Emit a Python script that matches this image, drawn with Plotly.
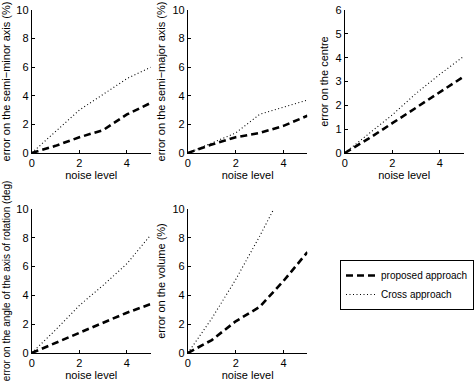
import plotly.graph_objects as go

noise = [0, 1, 2, 3, 4, 5]

minor_proposed = [0, 0.5, 1.1, 1.6, 2.7, 3.5]
minor_cross = [0, 1.5, 3.0, 4.1, 5.2, 6.0]

major_proposed = [0, 0.6, 1.1, 1.4, 1.9, 2.6]
major_cross = [0, 0.7, 1.4, 2.7, 3.2, 3.7]

centre_proposed = [0, 0.6, 1.25, 1.9, 2.55, 3.2]
centre_cross = [0, 0.8, 1.6, 2.5, 3.3, 4.05]

angle_proposed = [0, 0.7, 1.4, 2.1, 2.8, 3.4]
angle_cross = [0, 1.6, 3.3, 4.7, 6.2, 8.2]

volume_proposed = [0, 0.9, 2.2, 3.2, 5.0, 7.0]
volume_cross = [0, 2.4, 5.1, 8.1, 11.3, 14.5]

panels = [
    ("", minor_proposed, minor_cross, "error on the semi\u2212minor axis (%)", 10),
    ("2", major_proposed, major_cross, "error on the semi\u2212major axis (%)", 10),
    ("3", centre_proposed, centre_cross, "error on the centre", 6),
    ("4", angle_proposed, angle_cross, "error on the angle of the axis of rotation (deg)", 10),
    ("5", volume_proposed, volume_cross, "error on the volume (%)", 10),
]

W, H = 474, 381
xdoms = [(32, 152), (189.5, 310), (347.7, 467.5), (32, 152), (189.5, 310)]
ydoms = [(10, 153), (10, 153), (10, 153), (209, 353), (209, 353)]

fig = go.Figure()
font = dict(family="Liberation Sans, Arial, sans-serif", size=11, color="black")
small_font = dict(family="Liberation Sans, Arial, sans-serif", size=10, color="black")
layout = {}
for i, (suf, prop, cross, title, ymax) in enumerate(panels):
    xa = "x" + suf
    ya = "y" + suf
    fig.add_trace(go.Scatter(x=noise, y=prop, mode="lines", xaxis=xa, yaxis=ya,
                             line=dict(color="black", width=2.6, dash="7px,4px"),
                             name="proposed approach", showlegend=(i == 0)))
    fig.add_trace(go.Scatter(x=noise, y=cross, mode="lines", xaxis=xa, yaxis=ya,
                             line=dict(color="black", width=1.1, dash="1px,2.5px"),
                             name="Cross approach", showlegend=(i == 0)))
    x0, x1 = xdoms[i]
    y0, y1 = ydoms[i]
    common = dict(showgrid=False, zeroline=False, showline=True, linecolor="black",
                  linewidth=1, ticks="inside", ticklen=3, tickcolor="black",
                  tickfont=font, mirror=False, automargin=False)
    layout["xaxis" + suf] = dict(domain=[x0 / W, x1 / W], range=[0, 5],
                                 tickvals=[0, 2, 4], anchor=ya,
                                 title=dict(text="noise level", font=font, standoff=2),
                                 **common)
    dtick = 1 if ymax == 6 else 2
    layout["yaxis" + suf] = dict(domain=[1 - y1 / H, 1 - y0 / H], range=[0, ymax],
                                 dtick=dtick, anchor=xa,
                                 title=dict(text=title,
                                            font=small_font if suf == "4" else font,
                                            standoff=3 if suf == "4" else 4),
                                 **common)

fig.update_layout(**layout)
fig.update_layout(
    width=W, height=H,
    margin=dict(l=0, r=0, t=0, b=0),
    paper_bgcolor="white", plot_bgcolor="white",
    font=font,
    legend=dict(x=343 / W, y=1 - 260 / H, xanchor="left", yanchor="top",
                bordercolor="black", borderwidth=1, bgcolor="white",
                font=small_font, tracegroupgap=0, itemwidth=30),
)
fig.write_html("out.html", config={"displayModeBar": False},
               post_script="document.body.style.margin='0';document.body.style.overflow='hidden';")
